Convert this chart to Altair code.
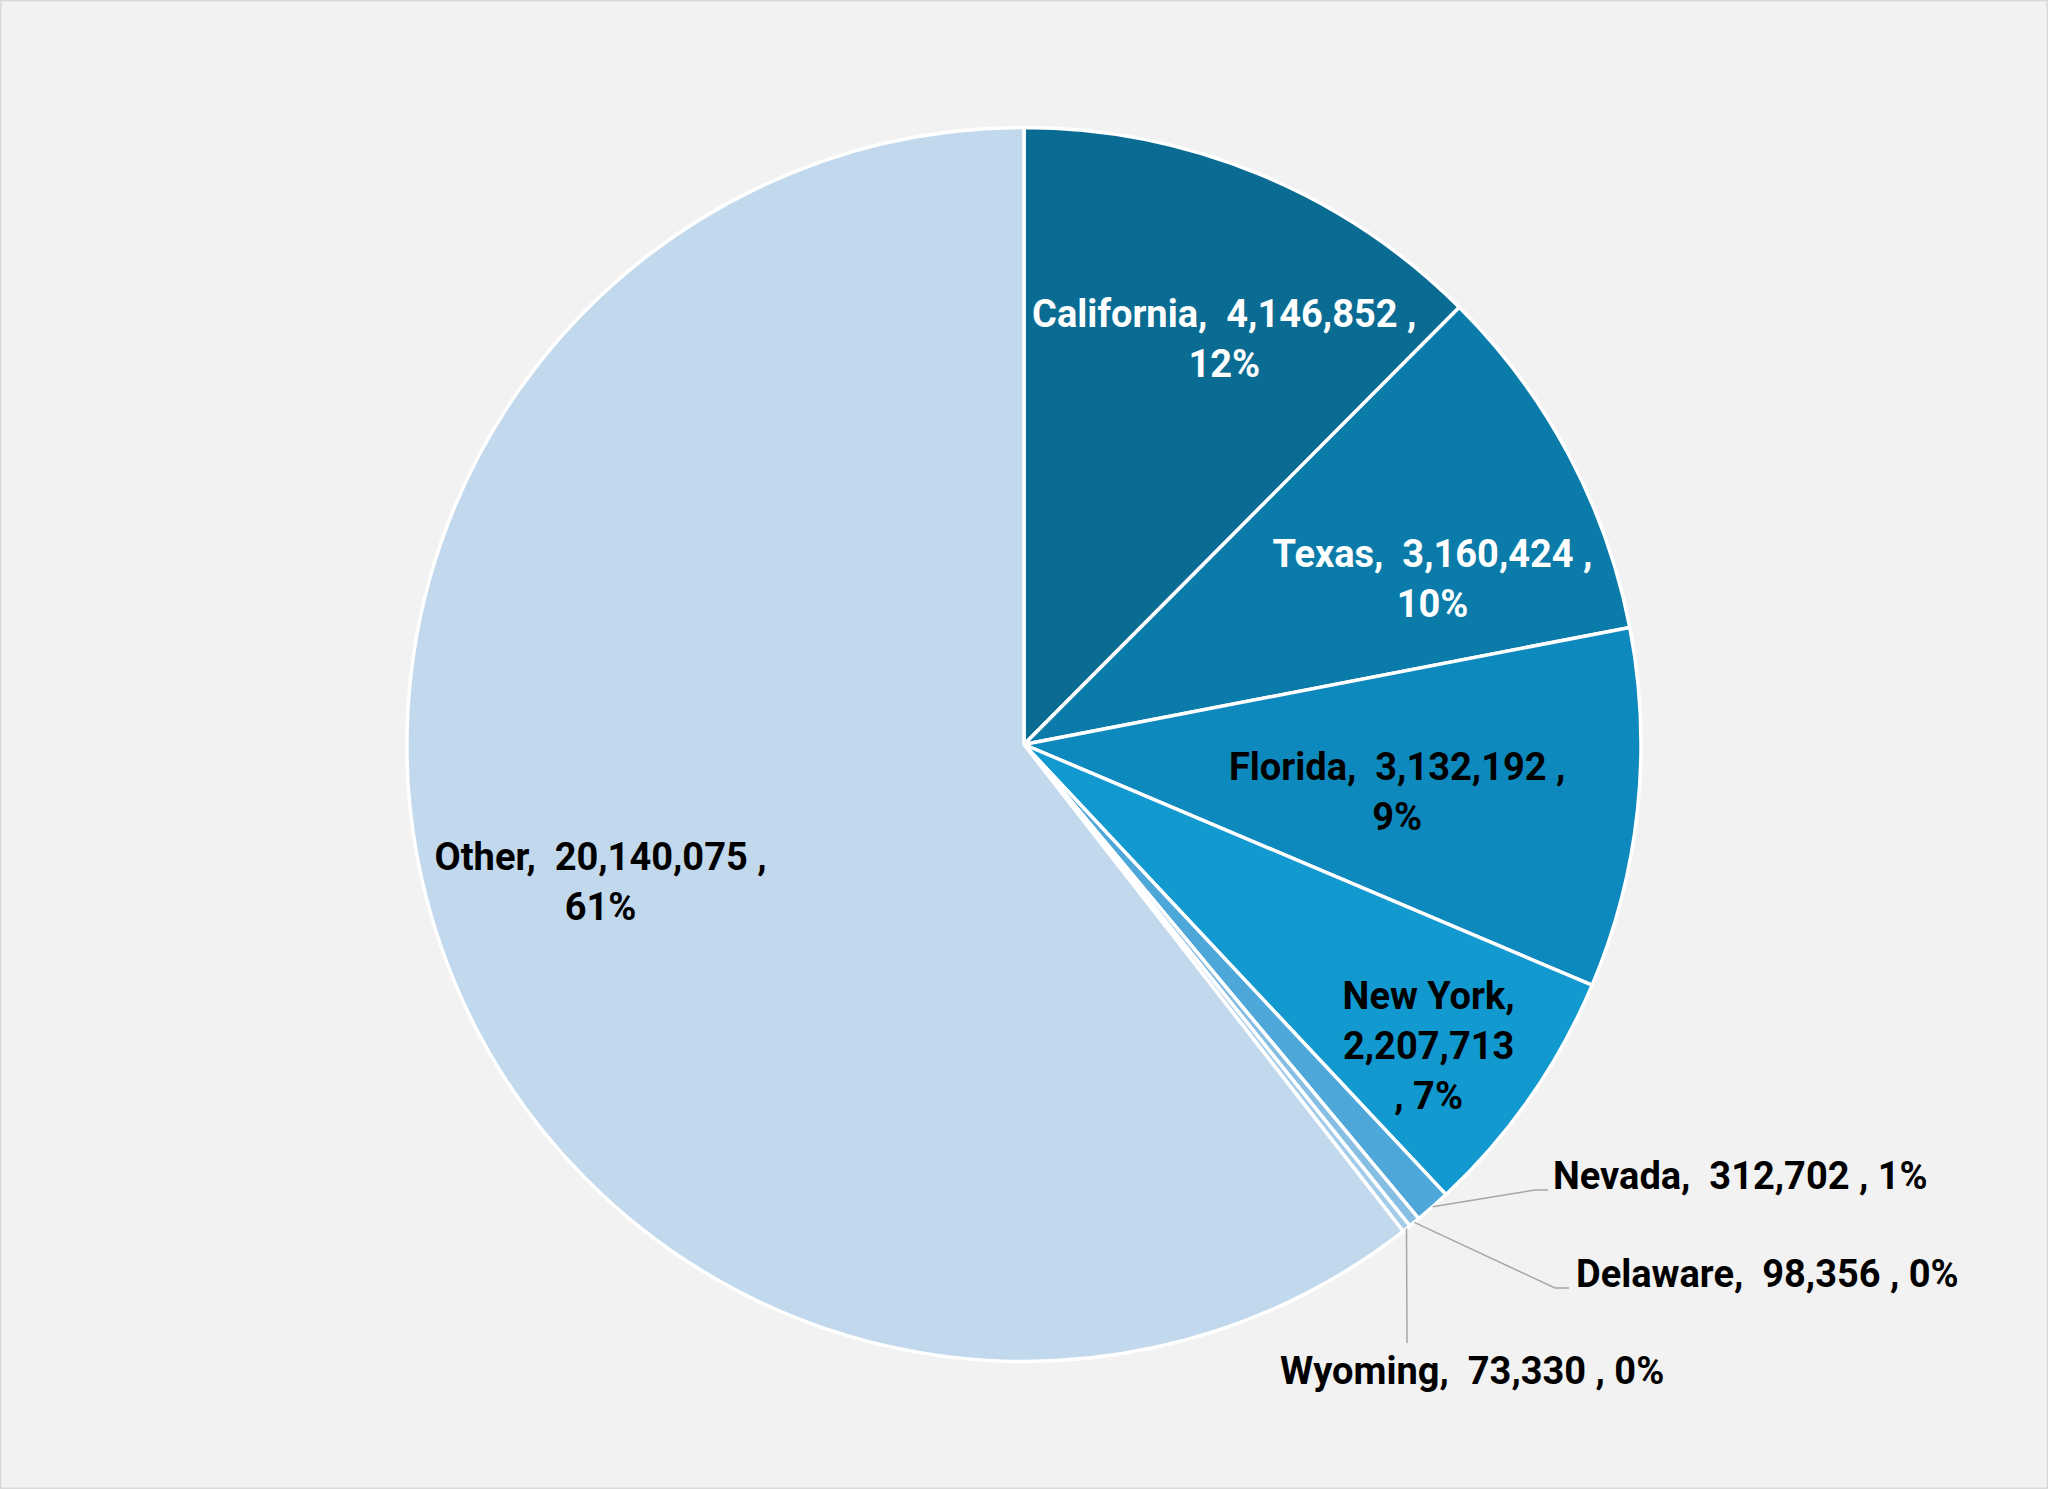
import math
import altair as alt
import pandas as pd

# ---- data ----
categories = ["California", "Texas", "Florida", "New York", "Nevada", "Delaware", "Wyoming", "Other"]
values = [4146852, 3160424, 3132192, 2207713, 312702, 98356, 73330, 20140075]
pct_labels = [12, 10, 9, 7, 1, 0, 0, 61]

# ---- styles / layout ----
colors = ["#0a6c93", "#0b7caa", "#0e89bd", "#1199d0", "#4da7d9", "#86bee4", "#a3cbea", "#c2d8ec"]
text_colors = ["white", "white", "black", "black", "black", "black", "black", "black"]
W, H = 2048, 1489
CX, CY = W / 2, H / 2
R = 617
FONT = "Roboto, sans-serif"
FS = 38
LH = 50
NB = "\u00a0"

# inside labels: (radius, angle tweak in degrees, wrap style)
inside_layout = {
    "California": (453, 3.8, "two"),
    "Texas": (441, 5.9, "two"),
    "Florida": (376, 1.05, "two"),
    "New York": (504, 1.7, "three"),
    "Other": (445, 1.05, "two"),
}
# outside labels: elbow points & text anchor as offsets from the pie centre
outside_layout = {
    "Nevada": {"pts": [(511, 445.5), (524, 445.5)], "text": (529, 433.5)},
    "Delaware": {"pts": [(531, 543.5), (545, 543.5)], "text": (552, 531.5)},
    "Wyoming": {"pts": [(383, 598.5)], "text": (256, 628.5)},
}

total = sum(values)
df = pd.DataFrame({"category": categories, "value": values, "idx": range(len(categories)),
                   "pct": pct_labels})
cum = 0
mids = []
for v in values:
    mids.append((cum + v / 2) / total * 360)
    cum += v
df["mid"] = mids
df["tcolor"] = text_colors


def label_text(cat, val, pct, style):
    if style == "two":
        return f"{cat},{NB} {val:,} ,\n{pct}%"
    if style == "three":
        return f"{cat},\n{val:,}\n, {pct}%"
    return f"{cat},{NB} {val:,} , {pct}%"


def polar(r, deg):
    a = math.radians(deg)
    return CX + r * math.sin(a), CY - r * math.cos(a)


in_rows, out_rows, line_rows = [], [], []
for _, row in df.iterrows():
    cat = row["category"]
    if cat in inside_layout:
        r, da, style = inside_layout[cat]
        x, y = polar(r, row["mid"] + da)
        txt = label_text(cat, row["value"], row["pct"], style)
        n_lines = txt.count("\n") + 1
        in_rows.append({"category": cat, "lx": x, "ly": y - (n_lines - 1) * LH / 2,
                        "label": txt, "tcolor": row["tcolor"]})
    else:
        lay = outside_layout[cat]
        sx, sy = polar(R, row["mid"])
        pts = [(sx, sy)] + [(CX + dx, CY + dy) for dx, dy in lay["pts"]]
        for k, (px, py) in enumerate(pts):
            line_rows.append({"category": cat, "seq": k, "lx": px, "ly": py})
        tx, ty = lay["text"]
        out_rows.append({"category": cat, "lx": CX + tx, "ly": CY + ty,
                         "label": label_text(cat, row["value"], row["pct"], "one"),
                         "tcolor": row["tcolor"]})

in_df = pd.DataFrame(in_rows)
out_df = pd.DataFrame(out_rows)
line_df = pd.DataFrame(line_rows)

arcs = alt.Chart(df).mark_arc(outerRadius=R, stroke="white", strokeWidth=3.5).encode(
    theta=alt.Theta("value:Q", stack=True),
    color=alt.Color("category:N", scale=alt.Scale(domain=categories, range=colors), legend=None),
    order=alt.Order("idx:Q"),
)

leaders = alt.Chart(line_df).mark_line(color="#a6a6a6", strokeWidth=1.5).encode(
    x=alt.X("lx:Q", scale=None),
    y=alt.Y("ly:Q", scale=None),
    detail="category:N",
    order="seq:Q",
)

inside_text = alt.Chart(in_df).mark_text(
    font=FONT, fontSize=FS, fontWeight="bold", lineBreak="\n", lineHeight=LH,
    align="center", baseline="middle", dy=3,
).encode(
    x=alt.X("lx:Q", scale=None),
    y=alt.Y("ly:Q", scale=None),
    text="label:N",
    color=alt.Color("tcolor:N", scale=None),
)

outside_text = alt.Chart(out_df).mark_text(
    font=FONT, fontSize=FS, fontWeight="bold",
    align="left", baseline="middle",
).encode(
    x=alt.X("lx:Q", scale=None),
    y=alt.Y("ly:Q", scale=None),
    text="label:N",
    color=alt.Color("tcolor:N", scale=None),
)

chart = alt.layer(arcs, leaders, inside_text, outside_text).properties(
    width=W, height=H, autosize=alt.AutoSizeParams(type="none"), padding=0,
    background="#f2f2f2",
).configure_view(stroke="#d9d9d9", strokeWidth=3)

chart.save("out.html", embed_options={"renderer": "svg", "actions": False})
